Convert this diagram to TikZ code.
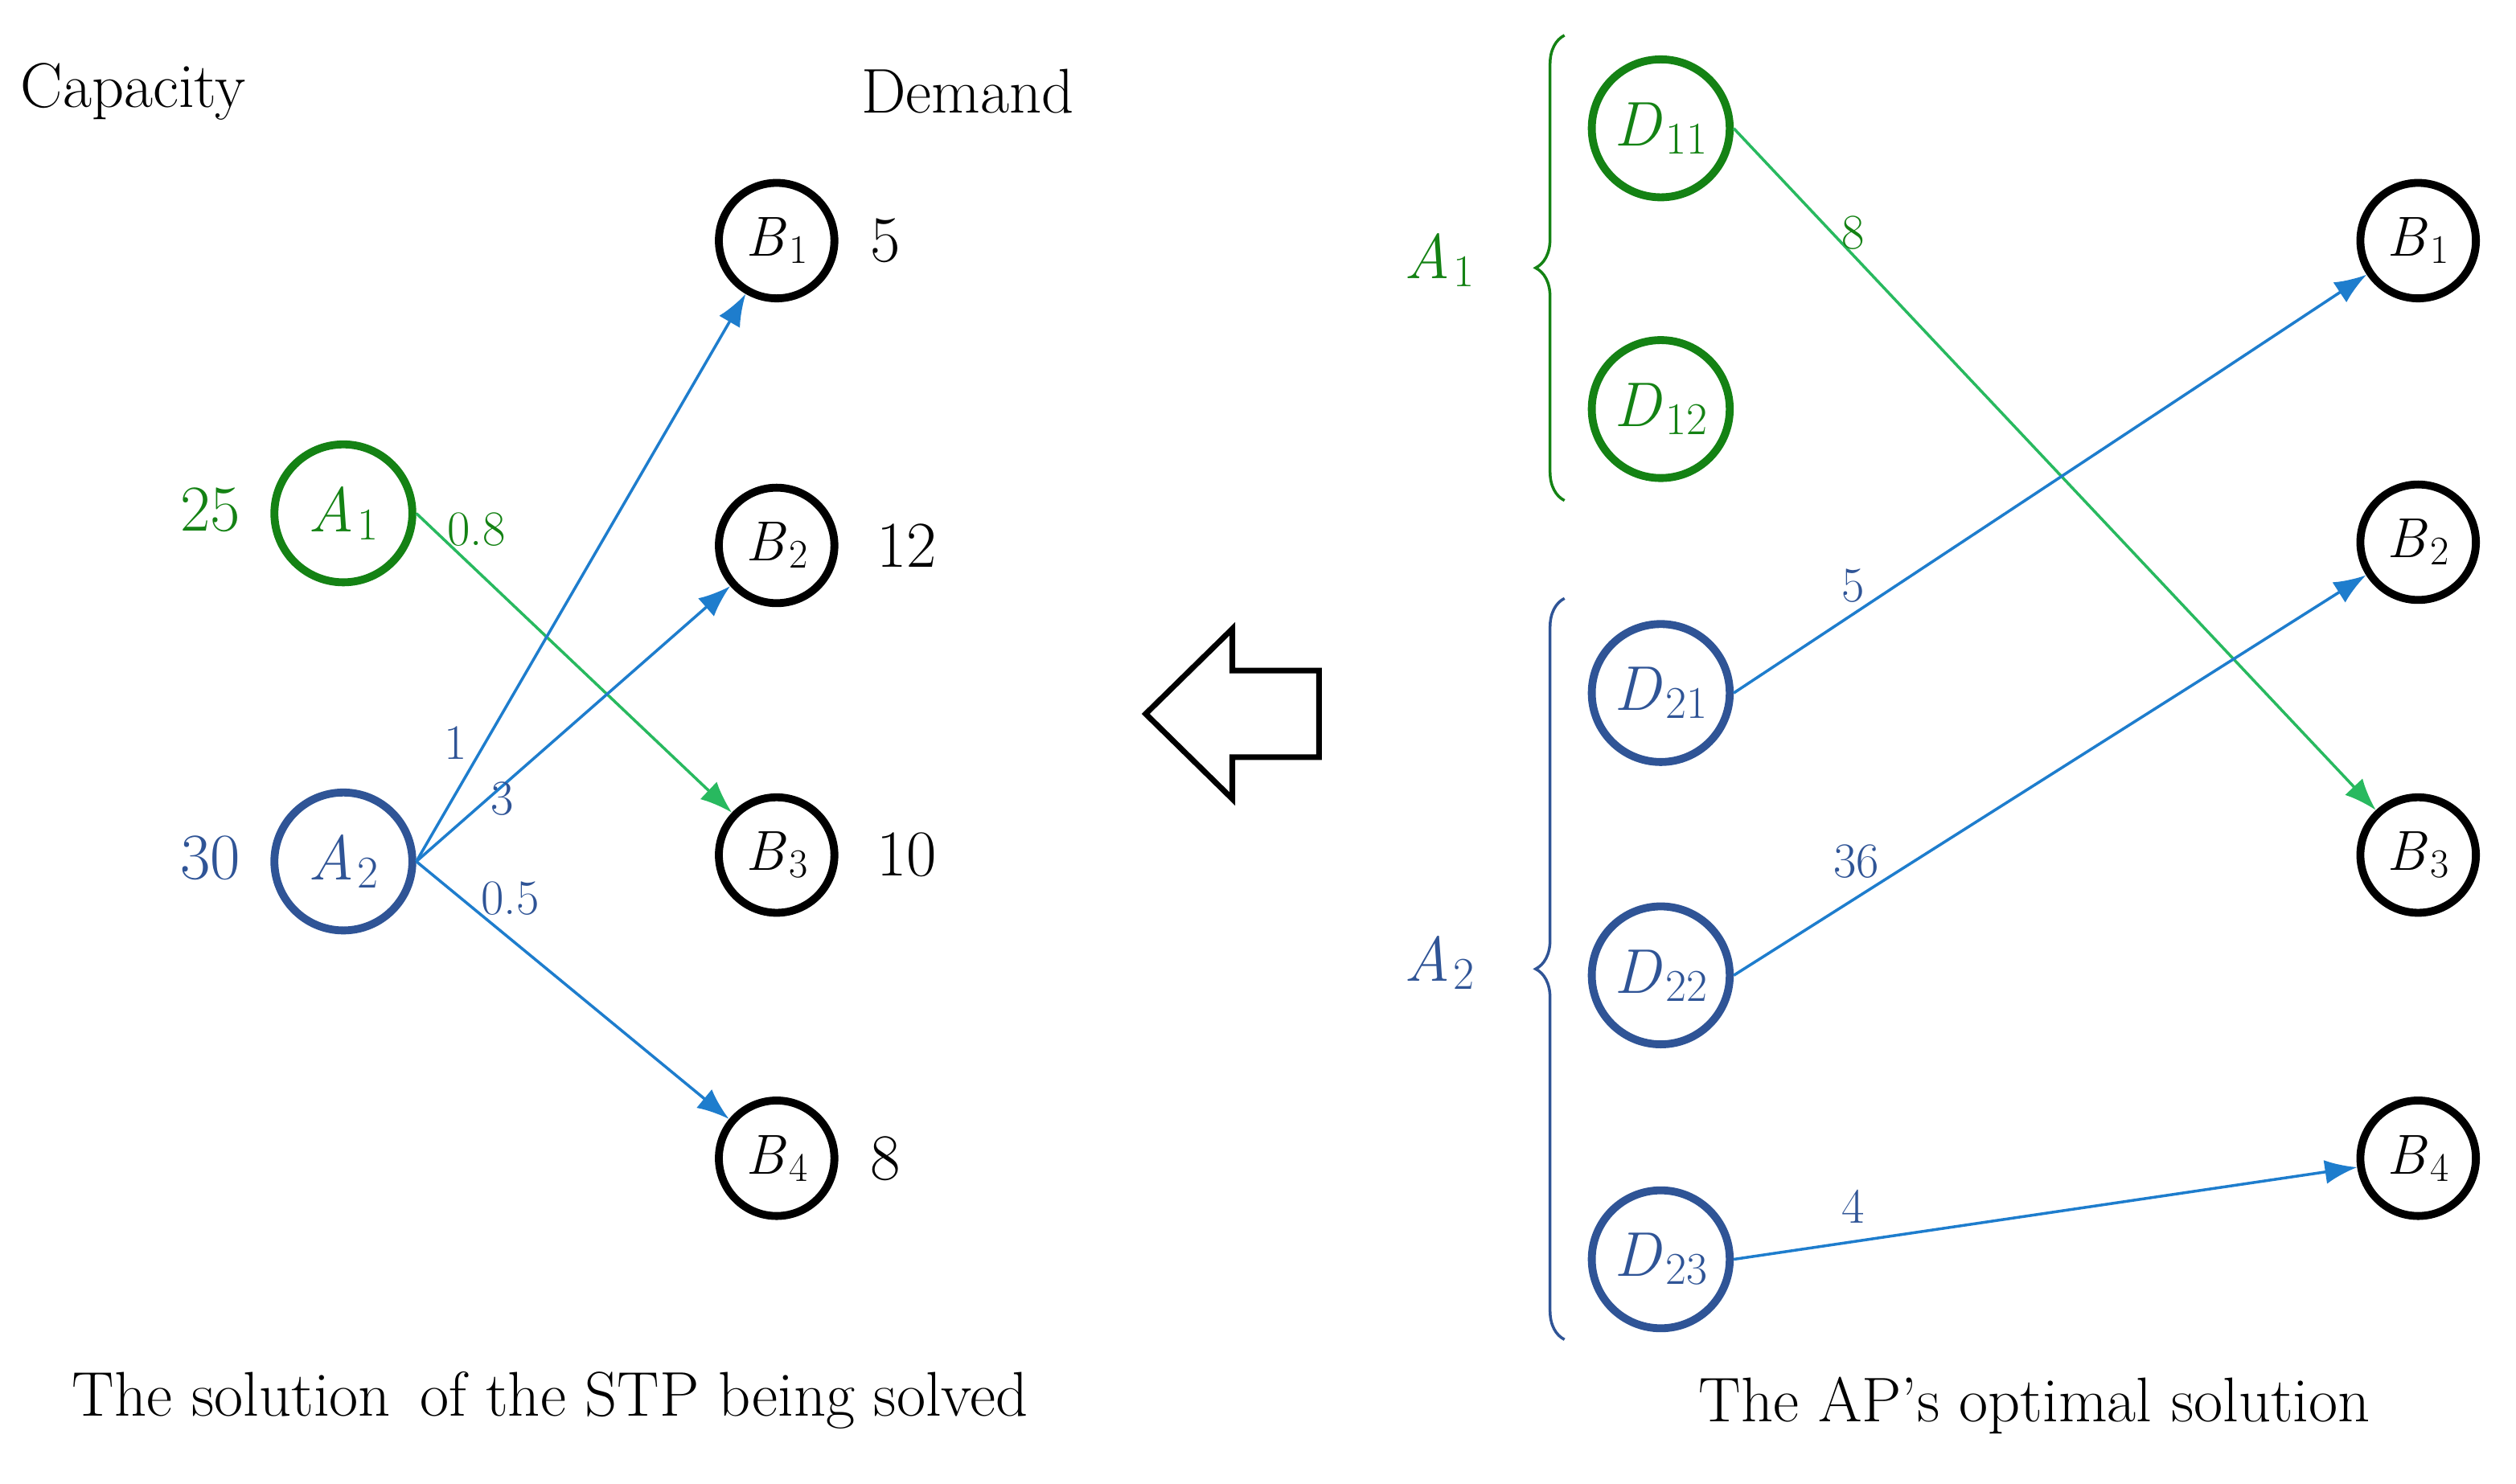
\documentclass[tikz,border=0pt]{standalone}
\usetikzlibrary{arrows.meta,decorations.pathreplacing}
\newcommand{\msub}[2]{\textit{#1}\kern0.05em\raisebox{-0.3ex}{\scalebox{0.72}{#2}}}
\begin{document}
\definecolor{cg}{RGB}{20,130,20}
\definecolor{eg}{RGB}{40,185,95}
\definecolor{cb}{RGB}{47,84,150}
\definecolor{eb}{RGB}{30,125,205}
\begin{tikzpicture}[x=0.05cm,y=-0.05cm,
 big/.style={circle,draw,line width=7pt,minimum size=4.3cm,inner sep=0pt,font=\fontsize{56}{60}\selectfont},
 sm/.style={circle,draw,line width=7pt,minimum size=3.6cm,inner sep=0pt,font=\fontsize{50}{54}\selectfont},
 num/.style={font=\fontsize{58}{62}\selectfont},
 el/.style={font=\fontsize{44}{48}\selectfont},
 txt/.style={font=\fontsize{56}{62}\selectfont},
 eG/.style={draw=eg,line width=2.5pt,-{Latex[length=1cm,width=0.75cm]}},
 eB/.style={draw=eb,line width=2.5pt,-{Latex[length=1cm,width=0.75cm]}},
 br/.style={line width=2.5pt,decorate,decoration={brace,amplitude=0.9cm}}]
\useasboundingbox (0,0) rectangle (1568,925);
% left
\node[big,draw=cg,text=cg] (A1) at (214,320) {\msub{A}{1}};
\node[big,draw=cb,text=cb] (A2) at (214,537) {\msub{A}{2}};
\node[sm] (B1) at (484,150) {\msub{B}{1}};
\node[sm] (B2) at (484,340) {\msub{B}{2}};
\node[sm] (B3) at (484,533) {\msub{B}{3}};
\node[sm] (B4) at (484,722) {\msub{B}{4}};
\node[num,text=cg] (n25) at (131,318) {25};
\node[num,text=cb] (n30) at (131,535) {30};
\node[num] (d1) at (552,150) {5};
\node[num] (d2) at (565,340) {12};
\node[num] (d3) at (565,533) {10};
\node[num] (d4) at (552,722) {8};
\node[txt] (cap) at (83,57) {Capacity};
\node[txt] (dem) at (603,57) {Demand};
\draw[eG] (A1.east) -- (B3);
\draw[eB] (A2.east) -- (B1);
\draw[eB] (A2.east) -- (B2);
\draw[eB] (A2.east) -- (B4);
\node[el,text=cg] (l08) at (297,330) {0.8};
\node[el,text=cb] (l1) at (284,463) {1};
\node[el,text=cb] (l3) at (313,498) {3};
\node[el,text=cb] (l05) at (318,560) {0.5};
\node[txt] (c1) at (343,873) {The solution\, of the STP being solved};
% hollow arrow
\draw[line width=5pt,line join=miter] (714,445) -- (768,392) -- (768,418) -- (822,418) -- (822,472) -- (768,472) -- (768,498) -- cycle;
% right
\node[big,draw=cg,text=cg] (D11) at (1035,80) {\msub{D}{11}};
\node[big,draw=cg,text=cg] (D12) at (1035,255) {\msub{D}{12}};
\node[big,draw=cb,text=cb] (D21) at (1035,432) {\msub{D}{21}};
\node[big,draw=cb,text=cb] (D22) at (1035,608) {\msub{D}{22}};
\node[big,draw=cb,text=cb] (D23) at (1035,785) {\msub{D}{23}};
\node[sm] (C1) at (1507,150) {\msub{B}{1}};
\node[sm] (C2) at (1507,338) {\msub{B}{2}};
\node[sm] (C3) at (1507,533) {\msub{B}{3}};
\node[sm] (C4) at (1507,722) {\msub{B}{4}};
\draw[br,draw=cg] (975,312) -- (975,22);
\draw[br,draw=cb] (975,835) -- (975,373);
\node[txt,text=cg] (LA1) at (897,162) {\msub{A}{1}};
\node[txt,text=cb] (LA2) at (897,600) {\msub{A}{2}};
\draw[eG] (D11.east) -- (C3);
\draw[eB] (D21.east) -- (C1);
\draw[eB] (D22.east) -- (C2);
\draw[eB] (D23.east) -- (C4);
\node[el,text=cg] (l8) at (1155,145) {8};
\node[el,text=cb] (l5) at (1155,365) {5};
\node[el,text=cb] (l36) at (1157,537) {36};
\node[el,text=cb] (l4) at (1155,752) {4};
\node[txt] (c2) at (1268,876) {The AP's optimal solution};
\end{tikzpicture}
\end{document}
